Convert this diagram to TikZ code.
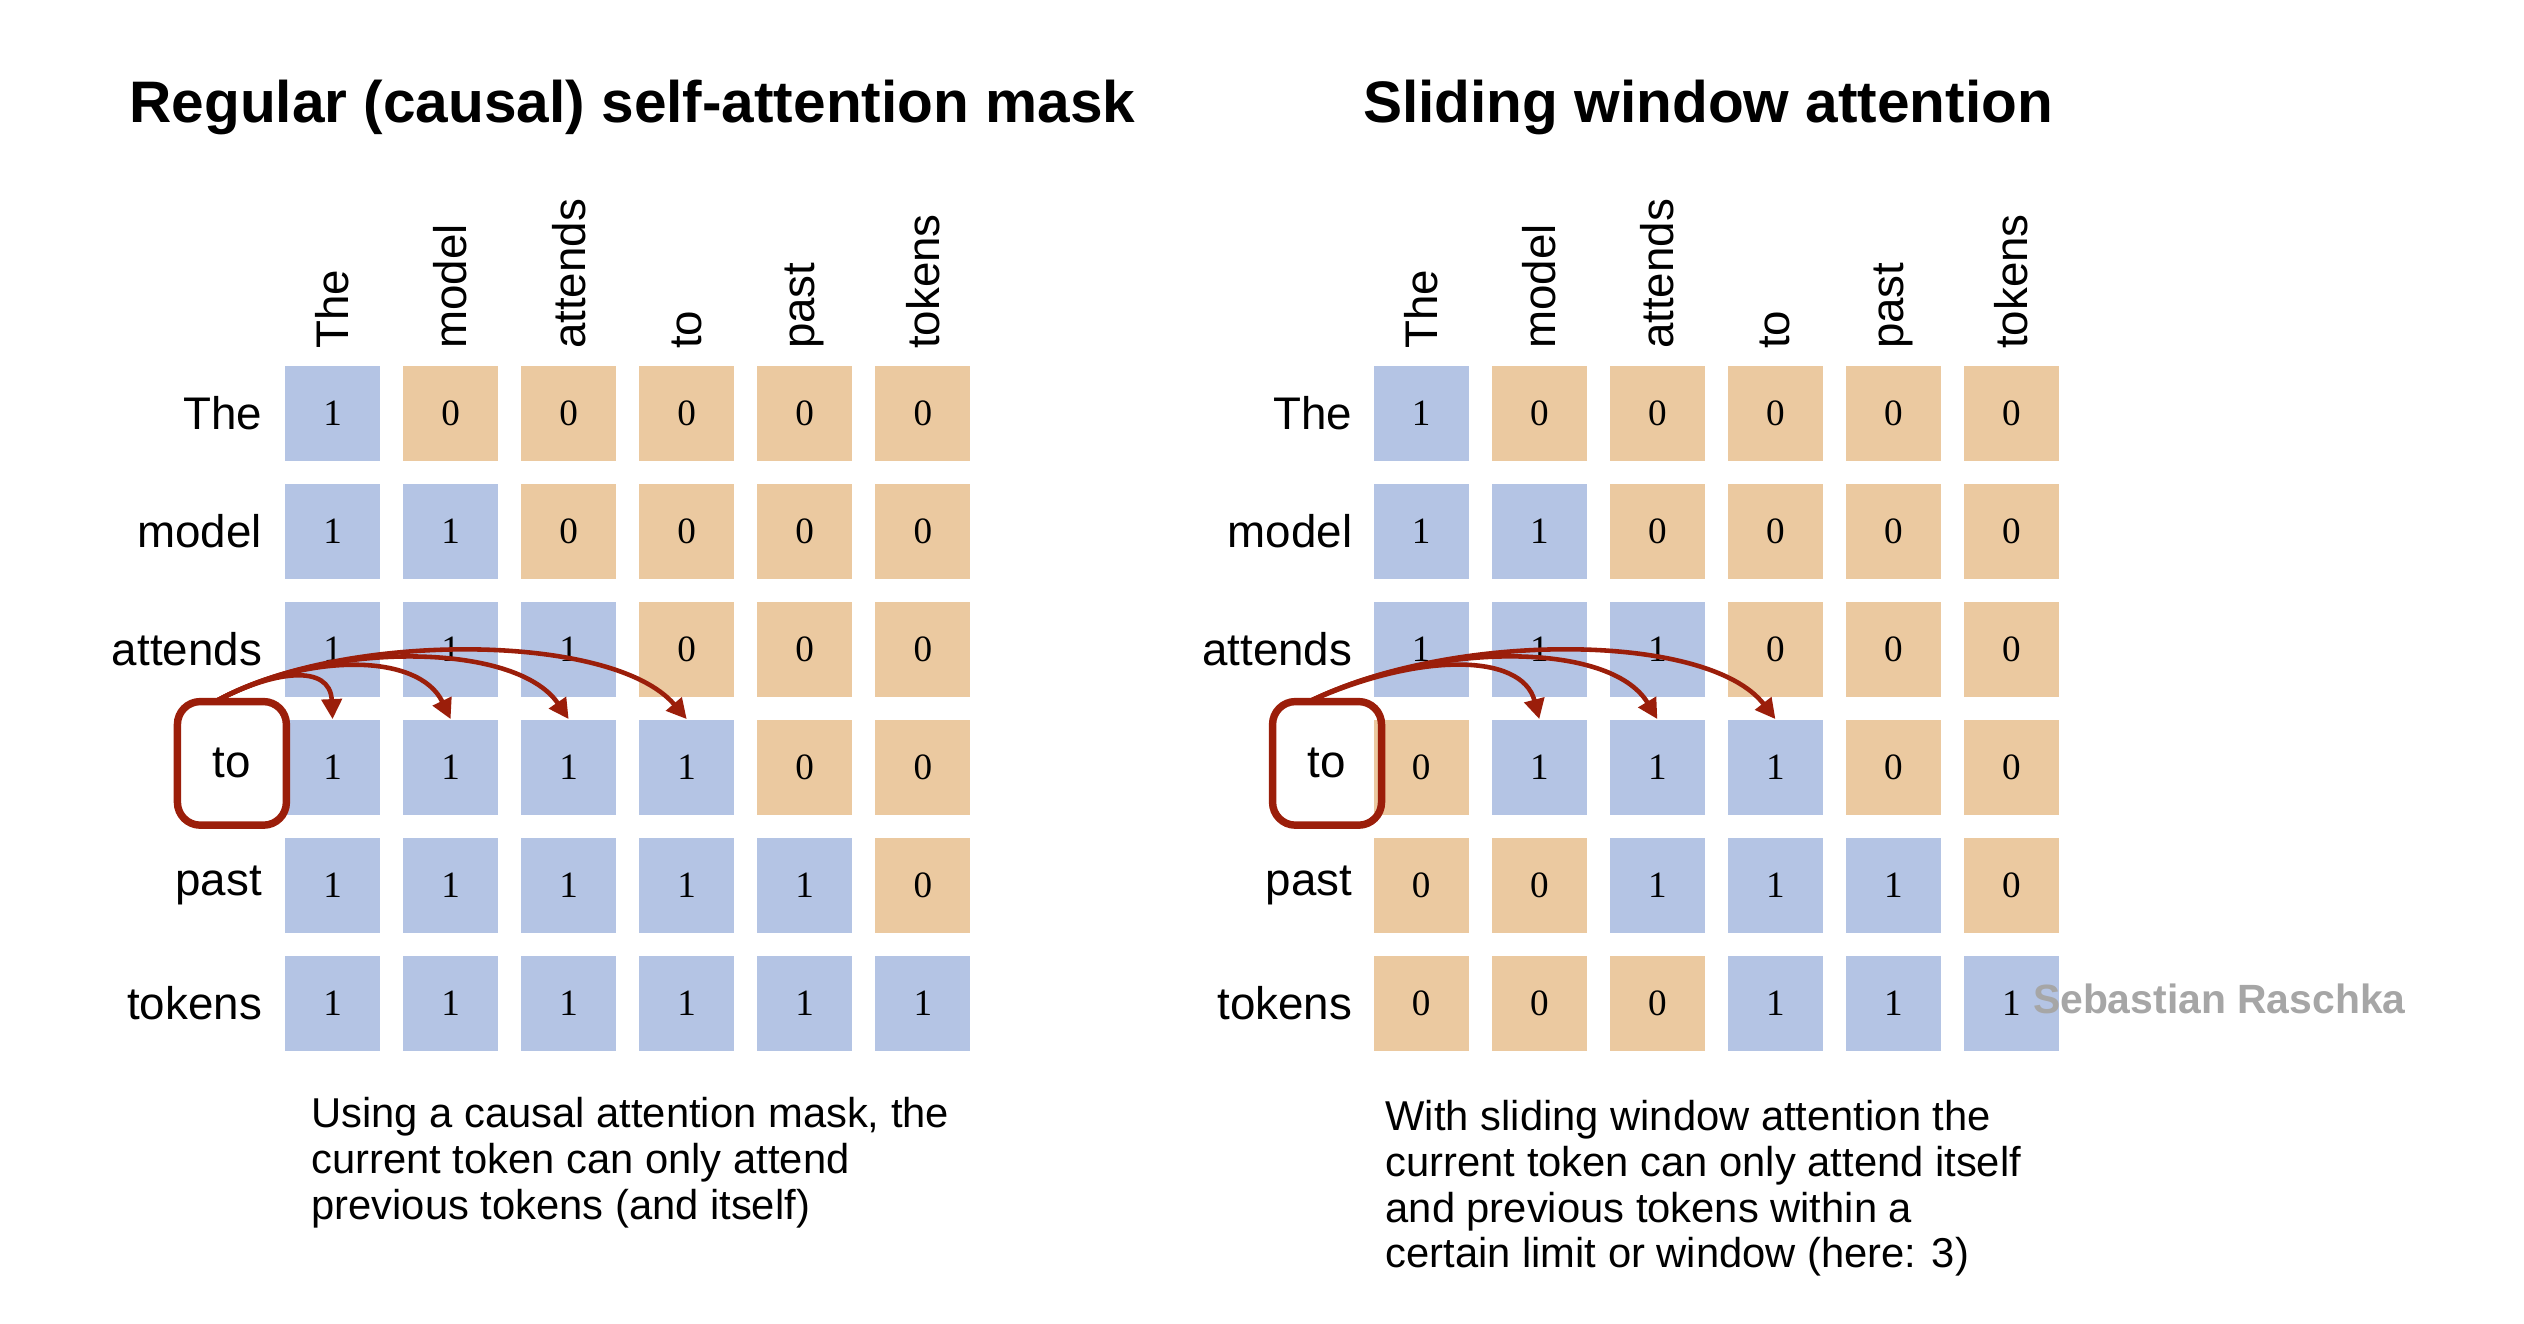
\documentclass[tikz,border=0pt]{standalone}
\usepackage{fontspec}
\setmainfont{Liberation Sans}
\newfontfamily\numfont{Liberation Serif}
\usetikzlibrary{arrows.meta}
\definecolor{cb}{HTML}{B4C4E4}
\definecolor{co}{HTML}{EBC9A0}
\definecolor{dr}{HTML}{9B1E0A}
\tikzset{
 cell/.style={minimum size=1.17cm,inner sep=0pt,font=\numfont\fontsize{13}{13}\selectfont},
 one/.style={cell,fill=cb},
 zero/.style={cell,fill=co},
 hdr/.style={rotate=90,anchor=west,font=\fontsize{16}{16}\selectfont,inner sep=0pt},
 rlab/.style={anchor=east,font=\fontsize{16}{16}\selectfont,inner sep=0pt},
 ttl/.style={anchor=west,font=\bfseries\fontsize{20.5}{20.5}\selectfont,inner sep=0pt},
 captxt/.style={anchor=north west,align=left,font=\fontsize{14.6}{16}\selectfont,inner sep=0pt},
 arr/.style={draw=dr,line width=1.6pt,-{Triangle[length=7pt,width=7pt]}},
 tobox/.style={draw=dr,line width=2.6pt,rounded corners=8pt,minimum width=1.34cm,minimum height=1.52cm,inner sep=0pt}
}
\begin{document}
\begin{tikzpicture}[x=0.0198cm,y=-0.0198cm]
\useasboundingbox (0,0) rectangle (31.04cm,-16.28cm);
\node[ttl] (t1) at (80,67) {Regular (causal) self-attention mask};
\node[ttl] (t2) at (846,67) {Sliding window attention};
\def\words{The,model,attends,to,past,tokens}
\foreach \w [count=\i] in \words {
  \node[hdr] (LH-\i) at ({206.5+73.3*(\i-1)},217) {\w};
  \node[hdr] (RH-\i) at ({882.5+73.3*(\i-1)},217) {\w};
}
\foreach \w [count=\i] in {The,model,attends,,past,tokens} {
  \node[rlab] (LR-\i) at (163,{256.5+73.3*(\i-1)}) {\w};
  \node[rlab] (RR-\i) at (840,{256.5+73.3*(\i-1)}) {\w};
}
\foreach \r in {1,...,6}{
 \foreach \c in {1,...,6}{
  \pgfmathtruncatemacro{\isone}{\c<=\r ? 1 : 0}
  \pgfmathtruncatemacro{\isw}{(\c<=\r) && (\c>\r-3) ? 1 : 0}
  \ifnum\isone=1 \node[one] (L-\r-\c) at ({206.5+73.3*(\c-1)},{256.5+73.3*(\r-1)}) {1};
  \else \node[zero] (L-\r-\c) at ({206.5+73.3*(\c-1)},{256.5+73.3*(\r-1)}) {0}; \fi
  \ifnum\isw=1 \node[one] (R-\r-\c) at ({882.5+73.3*(\c-1)},{256.5+73.3*(\r-1)}) {1};
  \else \node[zero] (R-\r-\c) at ({882.5+73.3*(\c-1)},{256.5+73.3*(\r-1)}) {0}; \fi
 }}
\node[tobox] (LB) at (144,474) {\fontsize{16}{16}\selectfont to};
\node[tobox] (RB) at (824,474) {\fontsize{16}{16}\selectfont to};
\coordinate (LS) at (133,436);
\coordinate (RS) at (812,436);
\draw[arr] (LS) .. controls (170,416) and (205,412) .. (L-4-1.north);
\draw[arr] (LS) .. controls (190,405) and (260,405) .. (L-4-2.north);
\draw[arr] (LS) .. controls (200,398) and (320,398) .. (L-4-3.north);
\draw[arr] (LS) .. controls (210,392) and (380,392) .. (L-4-4.north);
\draw[arr] (RS) .. controls (880,405) and (945,405) .. (R-4-2.north);
\draw[arr] (RS) .. controls (890,398) and (1000,398) .. (R-4-3.north);
\draw[arr] (RS) .. controls (900,392) and (1060,392) .. (R-4-4.north);
\node[captxt] (c1) at (193,681) {Using a causal attention mask, the\\current token can only attend\\previous tokens (and itself)};
\node[captxt] (c2) at (860,683) {With sliding window attention the\\current token can only attend itself\\and previous tokens within a\\certain limit or window (here: 3)};
\node[anchor=west,inner sep=0pt,text=black!35,font=\bfseries\fontsize{14.3}{14.3}\selectfont] (wm) at (1262,620) {Sebastian Raschka};
\end{tikzpicture}
\end{document}
